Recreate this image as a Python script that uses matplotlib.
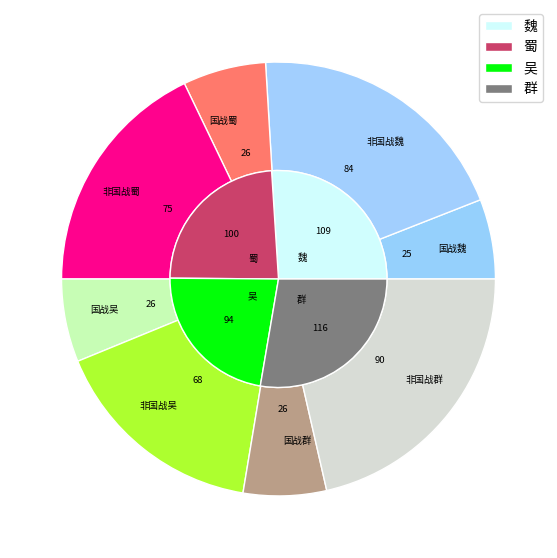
import matplotlib
matplotlib.use('Agg')
import matplotlib.pyplot as plt

plt.rcParams['font.family'] = ['Noto Sans CJK SC', 'DejaVu Sans']

# inner ring: factions
INNER_LABELS = ['魏', '蜀', '吴', '群']
INNER_VALUES = [109, 100, 94, 116]
INNER_COLORS = ['xkcd:pale blue', 'xkcd:dark pink', 'xkcd:bright green', 'grey']

# outer ring: 国战 / 非国战 split per faction
OUTER_LABELS = ['国战魏', '非国战魏', '国战蜀', '非国战蜀',
                '国战吴', '非国战吴', '国战群', '非国战群']
OUTER_VALUES = [25, 84, 26, 75, 26, 68, 26, 90]
OUTER_COLORS = ['xkcd:light blue', 'xkcd:baby blue', 'xkcd:salmon', 'xkcd:hot pink',
                'xkcd:pale green', 'greenyellow', 'xkcd:mushroom', 'xkcd:light grey']


def absval(values):
    total = sum(values)
    return lambda p: '{:d}'.format(int(round(p * total / 100.0)))


fig = plt.figure(figsize=(5.57, 5.58), dpi=100)
ax = fig.add_axes([0, 0, 1, 1])

wedge_kw = dict(edgecolor='white', linewidth=1)
txt_kw = dict(fontsize=6.8)

ax.pie(OUTER_VALUES, labels=OUTER_LABELS, colors=OUTER_COLORS, radius=1.0,
       autopct=absval(OUTER_VALUES), pctdistance=0.6, labeldistance=0.75,
       startangle=0, wedgeprops=dict(width=0.5, **wedge_kw), textprops=txt_kw)

inner, _, _ = ax.pie(INNER_VALUES, labels=INNER_LABELS, colors=INNER_COLORS, radius=0.5,
                     autopct=absval(INNER_VALUES), pctdistance=0.6, labeldistance=0.26,
                     startangle=0, wedgeprops=wedge_kw, textprops=txt_kw)

ax.set_aspect('equal')
ax.set_xlim(-1.283, 1.283)
ax.set_ylim(-1.286, 1.286)
ax.axis('off')

ax.legend(inner, INNER_LABELS, loc='upper right', fontsize=10, borderaxespad=1.0)

fig.savefig('out.png', dpi=100)
